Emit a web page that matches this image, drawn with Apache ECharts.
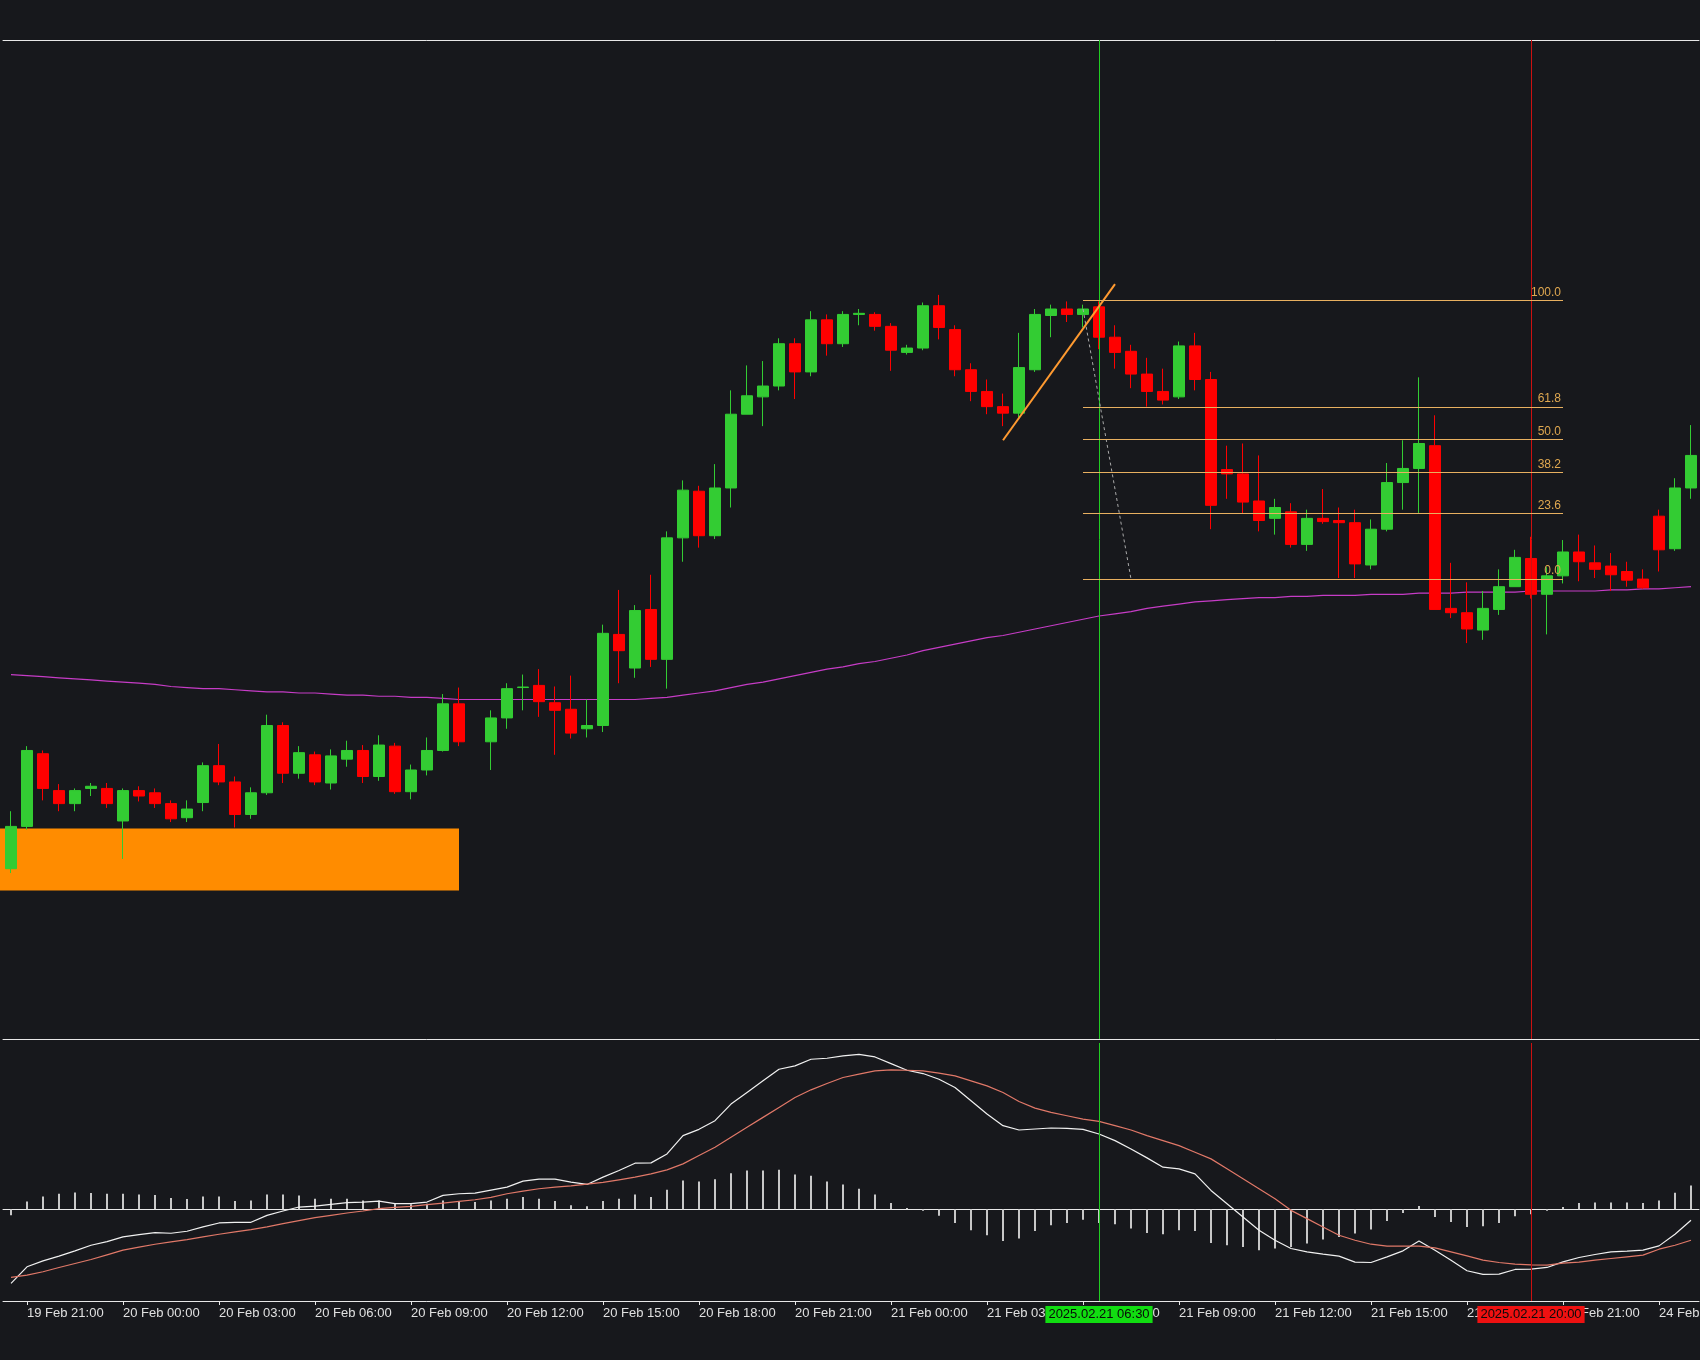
<!DOCTYPE html>
<html>
<head>
<meta charset="utf-8">
<script src="https://cdn.jsdelivr.net/npm/echarts@6/dist/echarts.min.js"></script>
<style>
  html, body { margin: 0; padding: 0; background: #17181c; }
  #chart { width: 1700px; height: 1360px; }
</style>
</head>
<body>
<div id="chart"></div>
<script>
// 30 min bars, [open, close, low, high]
var ohlc = [
  [199,238,195,252],[238,308,235,312],[305,273,262,308],[271,259,252,277],[259,271,252,273],
  [273,275,266,278],[273,259,255,278],[243,271,208,273],[271,266,261,275],[269,259,255,273],
  [259,245,242,262],[246,254,242,262],[260,294,252,297],[294,279,276,314],[279,249,237,284],
  [249,269,245,274],[269,331,267,341],[331,287,278,334],[287,306,282,312],[304,279,276,307],
  [278,303,272,309],[300,308,293,317],[308,284,278,313],[284,313,280,322],[312,270,268,315],
  [270,290,263,295],[290,308,285,320],[308,351,307,360],[351,316,312,366],['-','-','-','-'],
  [316,338,290,345],[338,365,328,370],[366,366.5,345,378],[368,353,339,383],[352,345,304,367],
  [346,324,319,377],[328,331,320,355],[331,416,325,424],[415,400,370,456],[384,437,375,442],
  [438,392,385,470],[392,504,365,510],[504,548,482,557],[547,506,495,552],[506,550,503,572],
  [550,618,532,640],[618,635,618,663],[634,644,607,667],[644,683,640,688],[683,657,632,688],
  [657,705,653,713],[705,683,672,710],[683,710,680,713],[710,711,700,715],[710,699,695,712],
  [699,677,658,702],[675,679,673,682],[679,718,677,721],[718,698,687,728],[696,659,653,700],
  [659,639,630,665],[639,625,618,650],[625,619,607,637],[619,661,615,693],[659,710,657,715],
  [709,715,689,719],[715,710,703,722],[710,715,698,719],[717,689,678,722],[689,675,660,700],
  [676,655,642,682],[655,639,625,670],[639,631,627,660],[634,681,632,685],[681,650,640,693],
  [650,534,512,657],[567,563,540,589],[563,537,526,591],[538,520,510,580],[522,532,507,540],
  [528,498,495,536],[498,522,492,530],[522,519,517,549],[520,518,467,532],[518,480,467,530],
  [479,512,475,521],[512,555,510,573],[555,568,530,594],[568,591,527,652],[589,438,438,617],
  [439,435,430,481],[435,420,407,463],[419,439,410,455],[438,459,433,475],[459,486,459,493],
  [485,452,448,505],[452,469,415,477],[469,491,462,502],[491,482,464,507],[481,475,467,497],
  [478,470,455,490],[473,465,459,482],[466,458,457,475],[524,493,473,530],[494,550,492,559],
  [550,580,540,608]
];
var ma = [
  378,377,376,375,374,373,372,371,370,369,367,366,365,365,364,363,362,362,361,361,
  360,359,359,358,358,357,357,356,355,355,355,355,355,355,355,355,355,355,355,355,
  356,357,359,361,363,366,369,371,374,377,380,383,385,388,390,393,396,400,403,406,
  409,412,414,417,420,423,426,429,432,434,436,439,441,443,445,446,447,448,449,449,
  450,450,451,451,451,452,452,452,453,453,453,454,454,454,454,455,455,455,455,455,
  456,456,457,457,458,459
];
var macd = [
  -223,-173,-155,-141,-125,-108,-97,-83,-76,-70,-72,-66,-53,-41,-39,-39,-18,-5,7,10,
  15,20,22,25,17,17,22,42,47,49,58,67,85,91,91,82,75,97,117,139,
  140,167,222,241,267,317,352,387,422,432,452,455,462,467,459,439,419,409,392,367,
  327,287,252,239,242,245,244,241,227,207,182,155,127,122,107,57,17,-23,-63,-93,
  -118,-128,-135,-141,-159,-160,-143,-125,-95,-123,-153,-185,-196,-195,-181,-180,-175,-158,-145,-136,
  -128,-126,-123,-110,-75,-33
];
var signal = [
  -205,-198,-188,-175,-163,-151,-137,-123,-114,-105,-98,-91,-83,-75,-68,-61,-53,-43,-34,-25,
  -18,-11,-5,2,6,9,14,19,24,29,36,47,55,62,67,71,76,81,89,97,
  107,119,137,162,187,217,247,277,307,337,360,379,397,407,417,420,419,417,410,402,
  387,372,352,325,305,292,282,272,265,252,239,222,207,192,172,152,122,92,62,32,
  -3,-28,-53,-78,-93,-105,-111,-111,-111,-116,-128,-140,-153,-160,-165,-167,-168,-162,-159,-153,
  -148,-143,-138,-120,-108,-93
];
var hist = [
  -18,24,39,47,51,49,47,47,45,43,34,31,39,39,25,27,45,45,42,32,
  32,32,27,27,17,15,17,27,25,22,27,32,37,32,25,12,9,25,32,45,
  37,59,87,84,91,109,117,117,119,105,101,84,75,62,45,19,4,-4,-19,-41,
  -63,-78,-95,-88,-65,-48,-41,-31,-41,-45,-58,-71,-75,-63,-65,-101,-108,-113,-123,-118,
  -113,-103,-91,-83,-73,-61,-35,-11,10,-23,-38,-53,-51,-41,-21,-15,-4,7,19,21,
  21,21,19,27,50,72
];
var fibLevels = [100.0, 61.8, 50.0, 38.2, 23.6, 0.0];
var fibHigh = 723, fibLow = 466, fibFrom = 67, fibTo = 97;
var greenIdx = 68, redIdx = 95;

var months = ['Jan','Feb','Mar','Apr','May','Jun','Jul','Aug','Sep','Oct','Nov','Dec'];
function pad(n) { return (n < 10 ? '0' : '') + n; }
var categories = [];
var t = Date.UTC(2025, 1, 19, 20, 30);
for (var i = 0; i < ohlc.length; i++) {
  var d = new Date(t);
  categories.push(d.getUTCFullYear() + '.' + pad(d.getUTCMonth() + 1) + '.' + pad(d.getUTCDate()) +
    ' ' + pad(d.getUTCHours()) + ':' + pad(d.getUTCMinutes()));
  t += 1800000;
  if (new Date(t).getUTCDay() === 6) t += 2 * 86400000; // skip weekend
}
function isTick(v) {
  var hm = v.slice(11);
  return hm.slice(3) === '00' && parseInt(hm.slice(0, 2), 10) % 3 === 0;
}
function fmtLabel(v) {
  if (v.slice(11) === '00:00' && v.slice(8, 10) === '24') return '24 Feb';
  return parseInt(v.slice(8, 10), 10) + ' ' + months[parseInt(v.slice(5, 7), 10) - 1] + ' ' + v.slice(11);
}

var fibLines = fibLevels.map(function (p) {
  var y = fibLow + (fibHigh - fibLow) * p / 100;
  return [{ coord: [fibFrom, y], lineStyle: { color: '#e8b060', width: 1, type: 'solid' } },
          { coord: [fibTo, y], label: { show: true, formatter: p.toFixed(1), position: 'insideEndTop',
            color: '#e0a850', fontSize: 12, fontFamily: 'Liberation Sans', distance: 2 } }];
});

var myChart = echarts.init(document.getElementById('chart'));
var axisBase = { type: 'category', data: categories, boundaryGap: true,
  axisLabel: { show: false }, axisTick: { show: false }, splitLine: { show: false } };
var option = {
  backgroundColor: '#17181c',
  animation: false,
  grid: [
    { left: 3, right: 1, top: 40, bottom: 321, outerBoundsMode: 'none', containLabel: false },
    { left: 3, right: 1, top: 1043, bottom: 59, outerBoundsMode: 'none', containLabel: false }
  ],
  xAxis: [
    Object.assign({}, axisBase, { gridIndex: 0, position: 'top', axisLine: { lineStyle: { color: '#e8e8e8' } } }),
    Object.assign({}, axisBase, { gridIndex: 0, position: 'bottom', axisLine: { lineStyle: { color: '#e8e8e8' } } }),
    Object.assign({}, axisBase, { gridIndex: 1, position: 'top', axisLine: { lineStyle: { color: '#e8e8e8' } } }),
    Object.assign({}, axisBase, { gridIndex: 1, position: 'bottom',
      axisLine: { lineStyle: { color: '#e8e8e8' } },
      axisTick: { show: true, length: 4, alignWithLabel: true, lineStyle: { color: '#e8e8e8' },
        interval: function (idx, v) { return isTick(v); } },
      axisLabel: { show: true, color: '#e0e0e0', fontSize: 13, fontFamily: 'Liberation Sans',
        align: 'left', margin: 6, hideOverlap: false,
        interval: function (idx, v) { return isTick(v); },
        formatter: fmtLabel } })
  ],
  yAxis: [
    { gridIndex: 0, min: 42, max: 963, show: false, splitLine: { show: false } },
    { gridIndex: 1, min: -276, max: 501, show: false, splitLine: { show: false } }
  ],
  series: [
    {
      name: 'price', type: 'candlestick', xAxisIndex: 0, yAxisIndex: 0, data: ohlc, barWidth: 11,
      itemStyle: { color: '#33cc33', color0: '#ff0000', borderColor: '#33cc33', borderColor0: '#ff0000', borderWidth: 1 },
      markArea: {
        silent: true,
        itemStyle: { color: '#ff8c00', opacity: 1 },
        data: [[{ xAxis: 0, yAxis: 236, x: 0 }, { xAxis: 28, yAxis: 179 }]]
      },
      markLine: {
        silent: true, symbol: 'none',
        data: [
          { xAxis: greenIdx, lineStyle: { color: '#22cc22', width: 1, type: 'solid' }, label: { show: false } },
          { xAxis: redIdx, lineStyle: { color: '#cc1111', width: 1, type: 'solid' }, label: { show: false } },
          [{ coord: [62, 594], lineStyle: { color: '#ff9a30', width: 2, type: 'solid' }, label: { show: false } }, { coord: [69, 738] }],
          [{ coord: [67, 715], lineStyle: { color: '#aaaaaa', width: 1, type: [3, 3] }, label: { show: false } }, { coord: [70, 466] }]
        ].concat(fibLines)
      }
    },
    {
      name: 'MA', type: 'line', xAxisIndex: 0, yAxisIndex: 0, data: ma, symbol: 'none',
      lineStyle: { color: '#c63cc6', width: 1.2 }, z: 1
    },
    {
      name: 'hist', type: 'bar', xAxisIndex: 3, yAxisIndex: 1, data: hist, barWidth: 2,
      itemStyle: { color: '#c8c8c8' },
      markLine: {
        silent: true, symbol: 'none',
        data: [
          { xAxis: greenIdx, lineStyle: { color: '#22cc22', width: 1, type: 'solid' },
            label: { show: true, position: 'start', formatter: categories[greenIdx], backgroundColor: '#11dd11',
              color: '#0a0a0a', fontSize: 13, fontFamily: 'Liberation Sans', padding: [2, 3], distance: 5 } },
          { xAxis: redIdx, lineStyle: { color: '#cc1111', width: 1, type: 'solid' },
            label: { show: true, position: 'start', formatter: categories[redIdx], backgroundColor: '#ee1111',
              color: '#0a0a0a', fontSize: 13, fontFamily: 'Liberation Sans', padding: [2, 3], distance: 5 } }
        ]
      }
    },
    {
      name: 'MACD', type: 'line', xAxisIndex: 3, yAxisIndex: 1, data: macd, symbol: 'none',
      lineStyle: { color: '#f0f0f0', width: 1.2 }
    },
    {
      name: 'Signal', type: 'line', xAxisIndex: 3, yAxisIndex: 1, data: signal, symbol: 'none',
      lineStyle: { color: '#e07868', width: 1.2 }
    }
  ]
};
myChart.setOption(option);
</script>
</body>
</html>
